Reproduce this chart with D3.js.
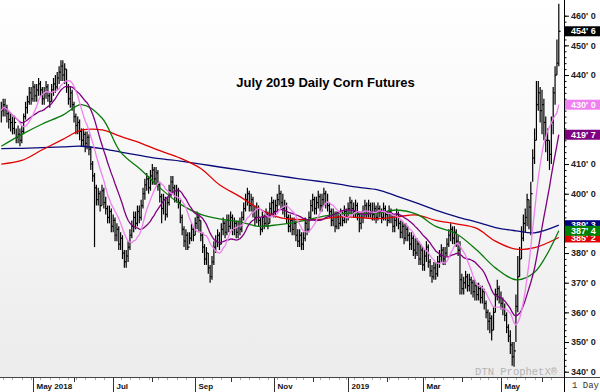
<!DOCTYPE html>
<html><head><meta charset="utf-8">
<script src="https://cdn.jsdelivr.net/npm/d3@7"></script>
<style>body{margin:0;background:#fff}svg{display:block}</style>
</head><body><svg id="c" width="600" height="392"></svg>
<script>
const title = "July 2019 Daily Corn Futures";
const firstDay = "2018-04-06", lastDay = "2019-06-14";
const holidays = ["2018-05-28","2018-07-04","2018-09-03","2018-11-22","2018-12-05","2018-12-25","2019-01-01","2019-01-21","2019-02-18","2019-04-19","2019-05-27"];
const tickDates = ["2018-05-01","2018-07-01","2018-09-01","2018-11-01","2019-01-01","2019-03-01","2019-05-01"];
const tickLabels = ["May 2018","Jul","Sep","Nov","2019","Mar","May"];
const priceTicks = [340,350,360,370,380,390,400,410,420,430,440,450,460];

const close = [428,430,429,427,425,424,422,424,
419,420,418,421,426,429,431,434,432,436,433,435,437,435,432,434,436,433,431,
435,437,436,439,441,443,440,442,436,432,434,430,426,423,424,421,418,420,417,419,415,410,406,402,398,400,396,
401,397,395,392,394,389,391,386,388,383,385,380,377,379,382,386,389,392,390,394,392,396,400,403,405,402,406,
408,405,407,403,399,395,398,393,397,401,404,402,399,401,397,392,388,384,386,382,385,388,386,390,392,
391,386,382,378,380,375,372,377,382,384,386,383,388,390,387,391,389,392,388,390,387,389,
388,392,395,398,400,396,398,394,392,395,391,388,392,390,393,390,395,397,394,396,398,400,397,
395,396,392,389,391,388,390,386,384,386,383,385,390,388,392,396,398,395,397,399,396,398,400,397,
396,394,391,393,389,392,390,393,391,394,392,395,397,395,394,396,393,390,392,394,396,394,396,394,
393,395,392,395,394,392,395,393,391,394,392,389,391,393,390,387,389,385,388,386,383,385,381,
380,383,378,381,376,379,382,377,374,372,375,373,377,379,381,378,380,383,386,388,385,387,384,381,371,368,370,372,369,371,
370,367,369,366,368,365,367,363,360,357,358,354,360,366,368,365,363,361,359,355,352,349,345,347,
362,372,378,385,390,392,398,395.5,400,412,418,430,434,428,430,424,418,418,413.25,424,434,440,444,454.75];

const high = [431,432,432,430,428,427,426,426,
422,423,422,423,427,431,433,436,436,438,437,437,439,438,436,436,438,437,434,
437,439,440,441,443,445,445,444,442,437,436,435,431,427,426,425,422,422,421,421,420,416,411,407,403,402,401,
403,402,399,396,396,395,393,392,390,389,387,386,381,381,384,388,391,394,394,396,396,398,402,405,407,406,408,
410,409,409,408,404,400,400,399,399,403,406,406,403,403,402,398,393,389,388,387,387,390,389,392,394,
393,391,387,383,382,380,376,379,384,386,388,387,390,392,391,393,393,394,393,392,391,391,
392,394,397,400,402,401,400,399,396,397,396,392,394,393,395,394,397,399,398,398,400,403,401,
400,398,397,393,393,392,392,391,388,388,387,387,392,391,394,398,400,399,399,401,400,400,402,401,
400,397,395,395,394,394,393,395,394,396,395,397,399,398,397,398,397,394,394,396,398,397,398,397,
397,397,396,397,396,395,397,396,394,396,395,393,393,395,394,391,391,390,390,389,387,387,386,
385,385,384,383,382,381,384,383,378,376,377,377,379,381,383,382,382,385,388,390,389,389,388,386,384,373,372,374,373,373,
372,371,371,370,370,369,369,368,364,361,360,359,362,368,371,369,367,365,363,360,356,354,350,350,
366,379,382,389,393,395,400,398,404,415,422,438,438,436,435,432,426,422,418,426,436,443,452,464];

const low = [424,426,426,424,422,421,420,420,
417,417,416,417,420,425,427,430,430,431,431,431,433,433,430,430,432,431,429,
431,433,434,435,437,438,438,437,434,430,429,428,424,420,420,418,416,416,414,415,413,408,404,382,396,396,394,
396,395,393,390,390,387,387,384,384,381,381,378,375,375,377,381,385,387,388,389,390,391,395,398,401,400,401,
403,403,403,401,397,390,393,391,392,396,399,400,397,397,395,390,386,382,381,381,383,384,384,386,388,
387,384,380,376,376,373,370,371,376,380,382,381,383,386,385,386,387,388,386,386,385,385,
386,387,391,394,396,394,394,392,389,390,389,386,387,388,389,388,390,393,392,392,394,396,395,
393,392,390,387,387,386,386,384,382,382,381,381,384,386,387,391,394,393,393,395,394,394,396,395,
394,392,389,389,387,388,388,389,389,390,390,391,393,393,392,392,391,387,388,390,392,392,392,392,
391,391,390,391,392,390,391,391,389,390,390,387,387,389,388,385,385,383,384,384,381,381,379,
378,379,376,376,374,374,377,375,372,370,371,371,372,375,377,376,376,379,382,384,383,383,382,379,366,366,366,368,367,367,
366,365,364,364,364,363,363,361,358,354,353,350.5,354,360,364,363,361,359,357,353,350,346,342,341.7,
350,360,372,378,384,387,389,388,386,404,410,418,428,424,420,418,414,411,408,410,420,430,440,443];

// slow moving averages, read at these bar numbers
const maBars = [0,11,22,33,43,54,64,75,85,96,107,117,128,138,149,159,170,181,191,202,212,223,233,244,255,265,276,286,299];
const ma50  = [416,420,423.5,426.5,430,425.5,414,408,402,396.5,393,391.5,390.5,389,389.6,390.5,392,393.3,393.3,393.5,394.5,393,389,386.5,381,375,371,373.5,387.5];
const ma100 = [410,411.2,414.8,418.3,421.4,421.5,419.3,417,414.5,412,408.5,403,399,395,392,391.3,391.3,392.2,392,391.6,392.2,392.8,391,389.8,388.3,384,381.3,381.8,385.25];
const ma200 = [415.2,415.3,415.5,415.8,416,415.2,414,412.8,411.8,411,410,409,408,407,406,405.1,404.2,403.2,402.2,401.3,399.2,396.8,394.5,392.3,390.4,388.6,387.5,386.8,389.375];

const svg = d3.select("#c");
const plotR = 564, plotB = 377;
const parse = d3.utcParse("%Y-%m-%d"), fmt = d3.utcFormat("%Y-%m-%d");
const hol = new Set(holidays);
const days = d3.utcDay.range(parse(firstDay), d3.utcDay.offset(parse(lastDay), 1))
  .filter(d => d.getUTCDay() !== 0 && d.getUTCDay() !== 6 && !hol.has(fmt(d)));
const n = Math.min(days.length, close.length, high.length, low.length);

const x = d3.scaleLinear().domain([0, n - 1]).range([1.3, 558.8]);
const y = d3.scaleLinear().domain([340, 460]).range([371.7, 15.7]);

// background
const defs = svg.append("defs");
const g0 = defs.append("linearGradient").attr("id", "bg").attr("x1", 0).attr("x2", 0).attr("y1", 0).attr("y2", 1);
g0.append("stop").attr("offset", "0%").attr("stop-color", "#ffffff");
g0.append("stop").attr("offset", "100%").attr("stop-color", "#ececec");
defs.append("clipPath").attr("id", "clip").append("rect").attr("width", plotR).attr("height", plotB);
svg.append("rect").attr("width", 600).attr("height", 392).attr("fill", "#fff");
svg.append("rect").attr("width", plotR).attr("height", plotB).attr("fill", "url(#bg)");

const plot = svg.append("g").attr("clip-path", "url(#clip)");

// title
svg.append("text").attr("x", 325.5).attr("y", 87).attr("text-anchor", "middle")
  .attr("font-family", "Liberation Sans, Arial, sans-serif").attr("font-weight", "bold")
  .attr("font-size", 13).attr("fill", "#000").text(title);

// bars
const idx = d3.range(n);
const bars = plot.append("g").attr("stroke", "#000").attr("stroke-width", 1.2).attr("fill", "none");
bars.selectAll("line.hl").data(idx).join("line").attr("class", "hl")
  .attr("x1", i => x(i)).attr("x2", i => x(i)).attr("y1", i => y(high[i])).attr("y2", i => y(low[i]));
bars.selectAll("line.cl").data(idx).join("line").attr("class", "cl")
  .attr("x1", i => x(i)).attr("x2", i => x(i) + 1.8).attr("y1", i => y(close[i])).attr("y2", i => y(close[i]));

// moving averages
function sma(len) {
  return idx.map(i => d3.mean(close.slice(Math.max(0, i - len + 1), i + 1)));
}
const ma10 = sma(10), ma20 = sma(20);
const line = d3.line().x(d => x(d[0])).y(d => y(d[1]));
const smooth = d3.line().x(d => x(d[0])).y(d => y(d[1])).curve(d3.curveCatmullRom.alpha(0.5));
const series = [
  {vals: maBars.map((b, k) => [b, ma200[k]]), color: "#0b0b7a", gen: smooth},
  {vals: maBars.map((b, k) => [b, ma100[k]]), color: "#e00000", gen: smooth},
  {vals: maBars.map((b, k) => [b, ma50[k]]), color: "#0a7a0a", gen: smooth},
  {vals: idx.map(i => [i, ma20[i]]), color: "#800080", gen: line},
  {vals: idx.map(i => [i, ma10[i]]), color: "#ee82ee", gen: line}
];
plot.selectAll("path.ma").data(series).join("path").attr("class", "ma")
  .attr("fill", "none").attr("stroke", d => d.color).attr("stroke-width", 1.3)
  .attr("d", d => d.gen(d.vals));

// watermark
svg.append("text").attr("x", 557).attr("y", 375).attr("text-anchor", "end")
  .attr("font-family", "Liberation Mono, Courier New, monospace").attr("font-size", 10.5)
  .attr("fill", "#b4b4b4").text("DTN ProphetX\u00AE");

// right axis
const ax = svg.append("g").attr("transform", `translate(${plotR},0)`);
ax.call(d3.axisRight(y).tickValues(d3.range(340, 461, 2)).tickSize(2.5).tickFormat(""));
ax.call(g => g.selectAll(".domain").remove());
const ax2 = svg.append("g").attr("transform", `translate(${plotR},0)`);
ax2.call(d3.axisRight(y).tickValues(priceTicks).tickSize(5).tickPadding(2).tickFormat(d => `${d}' 0`));
ax2.select(".domain").remove();
ax2.selectAll("text").attr("font-family", "Liberation Sans, Arial, sans-serif").attr("font-size", 9)
  .attr("font-weight", "bold").attr("fill", "#222");
svg.selectAll(".tick line").attr("stroke", "#000");

// value boxes
function eighths(v) {
  const e = Math.round(v * 8);
  return `${Math.floor(e / 8)}' ${e % 8}`;
}
const boxes = [
  {v: ma200[ma200.length - 1], c: "#000080"},
  {v: ma100[ma100.length - 1], c: "#e00000"},
  {v: ma50[ma50.length - 1], c: "#008000"},
  {v: ma20[n - 1], c: "#800080"},
  {v: ma10[n - 1], c: "#f080f0"},
  {v: close[n - 1], c: "#000000"}
];
const bx = svg.append("g").selectAll("g").data(boxes).join("g")
  .attr("transform", d => `translate(${plotR + 1},${y(d.v)})`);
bx.append("rect").attr("x", 0).attr("y", -5).attr("width", 36).attr("height", 10).attr("fill", d => d.c);
bx.append("text").attr("x", 6).attr("y", 3.2).attr("font-family", "Liberation Sans, Arial, sans-serif")
  .attr("font-size", 9).attr("font-weight", "bold").attr("fill", "#fff").text(d => eighths(d.v));

// bottom axis
svg.append("rect").attr("x", 0).attr("y", plotB).attr("width", 600).attr("height", 392 - plotB).attr("fill", "#fff");
svg.append("line").attr("x1", 0).attr("x2", 600).attr("y1", plotB + 0.5).attr("y2", plotB + 0.5).attr("stroke", "#444");
svg.append("line").attr("x1", plotR + 0.5).attr("x2", plotR + 0.5).attr("y1", 0).attr("y2", 392).attr("stroke", "#000");
// weekly ticks
const weekIdx = idx.filter(i => i > 0 && days[i].getUTCDay() < days[i - 1].getUTCDay());
svg.append("g").selectAll("line").data(weekIdx).join("line")
  .attr("x1", i => Math.round(x(i)) + 0.5).attr("x2", i => Math.round(x(i)) + 0.5)
  .attr("y1", plotB + 1).attr("y2", plotB + 3).attr("stroke", "#aaa");
// month ticks
const monthIdx = idx.filter(i => i > 0 && days[i].getUTCMonth() !== days[i - 1].getUTCMonth());
svg.append("g").selectAll("line").data(monthIdx).join("line")
  .attr("x1", i => Math.round(x(i)) + 0.5).attr("x2", i => Math.round(x(i)) + 0.5)
  .attr("y1", plotB + 1).attr("y2", plotB + 5).attr("stroke", "#333");
const labIdx = tickDates.map(t => d3.bisectLeft(days, parse(t)));
const lab = svg.append("g").selectAll("g").data(labIdx).join("g")
  .attr("transform", i => `translate(${Math.round(x(i)) + 0.5},0)`);
lab.append("line").attr("y1", plotB + 4).attr("y2", 392).attr("stroke", "#333");
lab.append("text").attr("x", 3).attr("y", 389).attr("font-family", "Liberation Sans, Arial, sans-serif")
  .attr("font-size", 8).attr("font-weight", "bold").attr("fill", "#111").text((d, k) => tickLabels[k]);
svg.append("text").attr("x", 572).attr("y", 388).attr("font-family", "Liberation Mono, Courier New, monospace")
  .attr("font-size", 9).attr("fill", "#333").text("1 Day");
</script></body></html>
